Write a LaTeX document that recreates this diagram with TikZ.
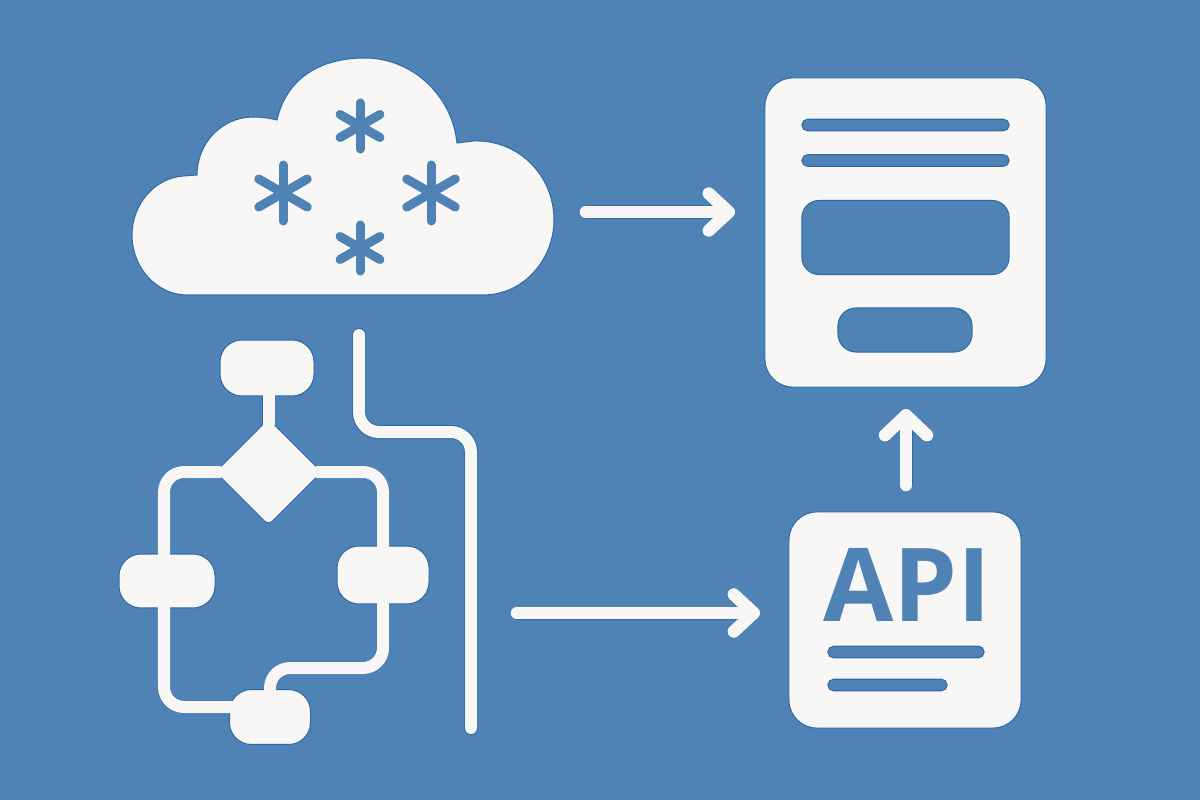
\documentclass[tikz,border=0pt]{standalone}
\usepackage{fontspec}
\setsansfont{Open Sans}
\usepackage{amsmath}
\usetikzlibrary{positioning}
\usetikzlibrary{shapes.geometric}
\usetikzlibrary{arrows.meta}
\definecolor{bgblue}{HTML}{5083B5}
\definecolor{edgeblue}{HTML}{2F6CA5}
\definecolor{cardwhite}{HTML}{F8F7F5}
\pgfdeclarelayer{base}
\pgfdeclarelayer{wires}
\pgfsetlayers{base,wires,main}

\newcommand{\flowwires}[1]{
\draw[#1] (choice.north |- start.south) -- (choice.north);
\draw[#1] (choice.west) -| ([xshift=-0.03cm]leftstep.north);
\draw[#1] (choice.east) -| (rightstep.north);
\draw[#1] ([xshift=-0.03cm]leftstep.south) |- ([yshift=0.1cm]endstep.west);
\draw[#1] (rightstep.south) |- (jog) -- (endstep.north);
}

\begin{document}
\begin{tikzpicture}[
  x=0.01cm, y=-0.01cm,
  box/.style={draw=edgeblue,line width=0.3pt,fill=cardwhite,rectangle,rounded corners=0.22cm,inner sep=0,outer sep=0},
  hole/.style={box,fill=bgblue},
  bar/.style={hole,rounded corners=0.055cm,minimum height=0.115cm},
  wireedge/.style={draw=edgeblue,line width=0.125cm,rounded corners=0.2cm,shorten <=-0.06cm,shorten >=-0.06cm},
  wirecore/.style={draw=cardwhite,line width=0.12cm,rounded corners=0.2cm,shorten <=-0.06cm,shorten >=-0.06cm},
  pipe/.style={draw=edgeblue,double=cardwhite,double distance=0.12cm,line width=0.3pt,rounded corners=0.2cm,line cap=round},
  flow/.style={preaction={draw=edgeblue,line width=0.13cm},draw=cardwhite,line width=0.125cm,line cap=round,line join=round,-{Straight Barb[length=0.2cm,width=#1,round]}},
  flow/.default=0.37cm,
  flake/.style={draw=bgblue,line width=0.09cm,line cap=round}
]

\begin{pgfonlayer}{base}
\fill[bgblue] (0,0) rectangle (1200,800);
\end{pgfonlayer}

% cloud
\draw[draw=edgeblue,line width=0.3pt,fill=cardwhite]
  (187,295) -- (483,295)
  .. controls (525,295) and (554,258) .. (554,220)
  .. controls (554,175) and (518,139) .. (473,141)
  -- (457,143)
  .. controls (452,95) and (412,58) .. (365,58)
  .. controls (318,58) and (286,80) .. (277,120)
  .. controls (269,118) and (261,117) .. (253,117)
  .. controls (222,117) and (197,143) .. (197,175)
  -- (183,176)
  .. controls (155,178) and (132,204) .. (132,235)
  .. controls (132,268) and (157,295) .. (187,295) -- cycle;

\foreach \cx/\cy/\r in {360/126/23, 283/193/28, 431/193/28, 360/248/23}
  \foreach \a in {90,30,-30}
    \draw[flake,shift={(\cx,\cy)}] (\a:\r) -- (\a+180:\r);

\coordinate (cloudout) at (586,212);
\coordinate (cardin) at (735,212);
\coordinate (flowout) at (517,613);
\coordinate (apiin) at (760,613);
\coordinate (apiout) at (906,485);
\coordinate (cardup) at (906,409);
\coordinate (pipetop) at (359,335);
\coordinate (pipebend) at (415,432);
\coordinate (pipebottom) at (471,728);
\coordinate (jog) at (270,668);

% flowchart
\node[box, minimum width=0.94cm, minimum height=0.56cm] (start) at (267,368) {};
\node[draw=edgeblue,line width=0.3pt,fill=cardwhite,diamond,rounded corners=0.05cm,inner sep=0,outer sep=0,minimum width=1.06cm,minimum height=1.06cm] (choice) at (268.5,472) {};
\node[box, minimum width=0.96cm, minimum height=0.54cm] (leftstep) at (167,581) {};
\node[box, minimum width=0.92cm, minimum height=0.58cm] (rightstep) at (383,575) {};
\node[box, minimum width=0.81cm, minimum height=0.55cm] (endstep) at (270,717) {};

\begin{pgfonlayer}{wires}
\flowwires{wireedge}
\end{pgfonlayer}
\flowwires{wirecore}

\draw[pipe] (pipetop) |- (pipebend) -| (pipebottom);

% form card
\node[box, rounded corners=0.28cm, minimum width=2.81cm, minimum height=3.09cm] (card) at (905.5,232.5) {};
\node[bar, minimum width=2.07cm] (cardline1) at (905.5,125) {};
\node[bar, minimum width=2.07cm] (cardline2) at (905.5,160.5) {};
\node[hole, rounded corners=0.17cm, minimum width=2.07cm, minimum height=0.74cm] (cardfield) at (905.5,237.5) {};
\node[hole, minimum width=1.34cm, minimum height=0.44cm, rounded corners=0.18cm] (cardbutton) at (905,330) {};

% api card
\node[box, rounded corners=0.28cm, minimum width=2.32cm, minimum height=2.16cm] (api) at (905,620) {};
\node[anchor=base, inner sep=0, text=bgblue, font=\sffamily\bfseries\fontsize{29}{29}\selectfont] (apitext) at (907.5,621) {API};
\node[bar, minimum width=1.56cm] (apiline1) at (906,652) {};
\node[bar, minimum width=1.19cm] (apiline2) at (887.5,685) {};

\draw[flow] (cloudout) -- (cardin);
\draw[flow] (flowout) -- (apiin);
\draw[flow=0.42cm] (apiout) -- (cardup);

\end{tikzpicture}
\end{document}
